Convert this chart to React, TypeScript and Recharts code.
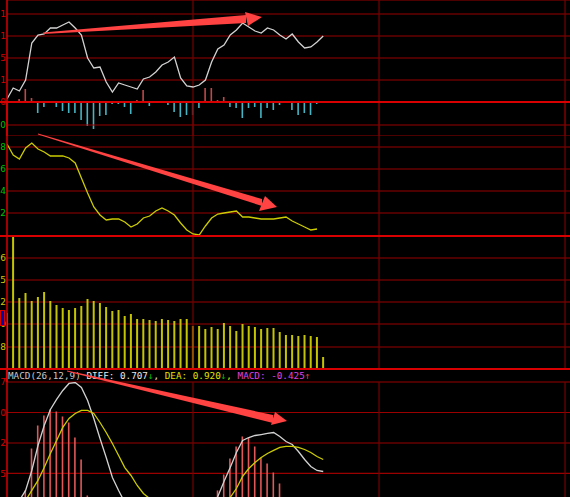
import React from 'react';
import { ComposedChart, Line, Bar, Cell, XAxis, YAxis, CartesianGrid, ReferenceLine } from 'recharts';

// panel 1: white line + small red/cyan histogram under it
const PRICE = [3, 14, 11, 22, 59, 67, 68, 74, 74, 77, 80, 74, 67, 44, 34, 35, 20, 10, 19, 17, 15, 13, 23, 25, 30, 37, 40, 45, 24, 16, 15, 17, 22, 40, 53, 57, 67, 72, 79, 75, 71, 69, 74, 72, 67, 63, 68, 60, 54, 55, 60, 66];
const HIST = [0, 0, 3, 13, 4, -11, -5, 0, -5, -9, -11, -11, -18, -24, -27, -14, -13, -2, -2, -5, -12, 2, 12, -4, 0, 0, -3, -10, -15, -13, -13, -6, 14, 14, 2, 5, -5, -6, -16, -6, -5, -16, -6, -8, -3, 0, -8, -13, -11, -13, -2, 0];
// panel 2: yellow line
const YEL = [92, 81, 77, 88, 93, 87, 84, 80, 80, 80, 78, 73, 58, 43, 29, 21, 16, 17, 17, 14, 9, 12, 18, 20, 25, 28, 25, 21, 13, 6, 2, 1, 10, 18, 22, 23, 24, 25, 19, 19, 18, 17, 17, 17, 18, 19, 15, 12, 9, 6, 7, null];
// panel 3: volume
const VOL = [56, 133, 71, 76, 68, 72, 77, 68, 64, 61, 59, 61, 63, 70, 68, 66, 62, 58, 59, 53, 55, 50, 50, 49, 48, 50, 49, 48, 50, 50, 43, 43, 40, 42, 40, 46, 43, 38, 45, 43, 42, 40, 41, 41, 37, 34, 34, 33, 34, 33, 32, 12];
// panel 4: MACD(26,12,9)
const DIFF = [0.233, 0.319, 0.418, 0.541, 0.787, 1.094, 1.34, 1.537, 1.66, 1.771, 1.857, 1.869, 1.808, 1.648, 1.426, 1.18, 0.946, 0.7, 0.541, 0.393, 0.27, 0.172, 0.11, 0.085, 0.085, 0.11, 0.135, 0.147, 0.122, 0.098, 0.085, 0.147, 0.233, 0.344, 0.467, 0.651, 0.823, 1.008, 1.156, 1.192, 1.217, 1.229, 1.242, 1.254, 1.205, 1.143, 1.106, 1.02, 0.922, 0.836, 0.787, 0.774];
const DEA = [0.233, 0.295, 0.356, 0.418, 0.541, 0.664, 0.823, 0.996, 1.156, 1.316, 1.426, 1.488, 1.525, 1.525, 1.488, 1.377, 1.254, 1.119, 0.971, 0.823, 0.725, 0.602, 0.504, 0.442, 0.381, 0.319, 0.27, 0.233, 0.208, 0.196, 0.196, 0.208, 0.245, 0.282, 0.344, 0.405, 0.455, 0.565, 0.713, 0.811, 0.885, 0.946, 0.996, 1.033, 1.07, 1.082, 1.082, 1.07, 1.045, 1.008, 0.959, 0.922];
const MACD = [0.1, 0.22, 0.35, 0.541, 1.057, 1.34, 1.463, 1.537, 1.512, 1.451, 1.377, 1.192, 0.922, 0.479, 0.25, 0.05, -0.12, -0.25, -0.35, -0.42, -0.45, -0.46, -0.44, -0.4, -0.34, -0.28, -0.22, -0.17, -0.15, -0.14, -0.12, -0.08, 0.05, 0.3, 0.541, 0.737, 0.934, 1.082, 1.205, 1.192, 1.082, 0.946, 0.873, 0.762, 0.627, 0.4, 0.2, 0.02, -0.12, -0.25, -0.36, -0.425];

// left scale labels (the screenshot only shows their last digit)
const A_TICKS = [0, 22, 44, 66, 88];
const A_LABELS = ['0', '1', '5', '1', '1'];
const B_TICKS = [23, 45, 67, 89, 111];
const B_LABELS = ['2', '4', '6', '8', '0'];
const C_TICKS = [22, 45, 67, 89, 111];
const C_LABELS = ['8', '0', '2', '5', '6'];
const D_TICKS = [0.75, 1.125, 1.5, 1.875];
const D_LABELS = ['5', '2', '0', '7'];
const VLINES = [30, 60, 90];

const rows = PRICE.map((p, i) => ({
  i,
  price: p,
  hist: HIST[i],
  yel: YEL[i],
  vol: VOL[i],
  diff: DIFF[i],
  dea: DEA[i],
  macd: MACD[i],
}));

const W = 570;
const XDOM: [number, number] = [0, 90.8];
const GRID = '#9a0000';
const VGRID = '#760000';
const AXIS = '#d80000';

function yAxis(ticks: number[], labels: string[], domain: [number, number], color: string) {
  return (
    <YAxis
      width={7}
      type="number"
      domain={domain}
      allowDataOverflow
      ticks={ticks}
      interval={0}
      tickSize={0}
      tickMargin={1}
      tickLine={false}
      axisLine={{ stroke: AXIS, strokeWidth: 1.5 }}
      tick={{ fill: color, fontSize: 9, fontFamily: 'DejaVu Sans' }}
      tickFormatter={(_v: number, idx: number) => labels[idx]}
    />
  );
}

function xAxis() {
  return <XAxis type="number" dataKey="i" domain={XDOM} allowDataOverflow hide />;
}

function vlines() {
  return VLINES.map((x) => <ReferenceLine key={x} x={x} stroke={VGRID} strokeWidth={1.2} />);
}

const box = (top: number, height: number): React.CSSProperties => ({ position: 'absolute', left: 0, top, width: W, height });
const sep = (top: number): React.CSSProperties => ({ position: 'absolute', left: 0, top, width: W, height: 2, background: '#d80000' });

export default function App() {
  return (
    <div style={{ position: 'fixed', left: 0, top: 0, width: W, height: 497, background: '#000', overflow: 'hidden' }}>
      <div style={box(0, 136)}>
        <ComposedChart width={W} height={136} data={rows} margin={{ top: 0, right: 0, bottom: 0, left: 0 }}>
          <CartesianGrid vertical={false} stroke={GRID} strokeWidth={1.2} />
          {xAxis()}
          {yAxis(A_TICKS, A_LABELS, [-34, 102], '#d80000')}
          {vlines()}
          <Bar dataKey="hist" barSize={1.6} isAnimationActive={false}>
            {rows.map((r) => (
              <Cell key={r.i} fill={r.hist >= 0 ? '#c04848' : '#46b4c2'} />
            ))}
          </Bar>
          <Line dataKey="price" stroke="#d2d2d2" strokeWidth={1.3} dot={false} isAnimationActive={false} />
        </ComposedChart>
      </div>

      <div style={box(102, 134)}>
        <ComposedChart width={W} height={134} data={rows} margin={{ top: 0, right: 0, bottom: 0, left: 0 }}>
          <CartesianGrid vertical={false} stroke={GRID} strokeWidth={1.2} />
          {xAxis()}
          {yAxis(B_TICKS, B_LABELS, [0, 134], '#00c000')}
          {vlines()}
          <Line dataKey="yel" stroke="#cccc00" strokeWidth={1.3} dot={false} isAnimationActive={false} />
        </ComposedChart>
      </div>

      <div style={box(236, 133)}>
        <ComposedChart width={W} height={133} data={rows} margin={{ top: 0, right: 0, bottom: 0, left: 0 }}>
          <CartesianGrid vertical={false} stroke={GRID} strokeWidth={1.2} />
          {xAxis()}
          {yAxis(C_TICKS, C_LABELS, [0, 133], '#cccc00')}
          {vlines()}
          <Bar dataKey="vol" fill="#c4c400" barSize={2} isAnimationActive={false} />
        </ComposedChart>
      </div>

      <div style={box(369, 173)}>
        <ComposedChart width={W} height={173} data={rows} margin={{ top: 13, right: 0, bottom: 0, left: 0 }}>
          <CartesianGrid vertical={false} stroke={GRID} strokeWidth={1.2} />
          {xAxis()}
          {yAxis(D_TICKS, D_LABELS, [-0.093, 1.875], '#d80000')}
          {vlines()}
          <Bar dataKey="macd" barSize={1.6} isAnimationActive={false}>
            {rows.map((r) => (
              <Cell key={r.i} fill={r.macd >= 0 ? '#e05858' : '#46b4c2'} />
            ))}
          </Bar>
          <Line dataKey="diff" stroke="#d2d2d2" strokeWidth={1.3} dot={false} isAnimationActive={false} />
          <Line dataKey="dea" stroke="#cccc00" strokeWidth={1.3} dot={false} isAnimationActive={false} />
        </ComposedChart>
      </div>

      <div style={sep(101)} />
      <div style={sep(235)} />
      <div style={sep(368)} />
      <div style={{ position: 'absolute', left: 6, top: 369, width: 1.5, height: 13, background: AXIS }} />
      <div style={{ position: 'absolute', left: 0, top: 310, width: 5, height: 16, background: '#0000a8', border: '1px solid #d80000', boxSizing: 'border-box' }} />

      <div
        style={{
          position: 'absolute',
          left: 8,
          top: 369,
          height: 13,
          lineHeight: '13px',
          fontFamily: 'DejaVu Sans Mono',
          fontSize: 9.3,
          whiteSpace: 'pre',
          color: '#c8c8c8',
        }}
      >
        <span>MACD(26,12,9) </span>
        <span style={{ color: '#e8e8e8' }}>DIFF: 0.707</span>
        <span style={{ color: '#00c000' }}>↓</span>
        <span style={{ color: '#e8e8e8' }}>, </span>
        <span style={{ color: '#e0e000' }}>DEA: 0.920</span>
        <span style={{ color: '#00c000' }}>↓</span>
        <span style={{ color: '#e0e000' }}>, </span>
        <span style={{ color: '#e040e0' }}>MACD: -0.425</span>
        <span style={{ color: '#e04040' }}>↑</span>
      </div>

      {/* hand-drawn annotation arrows */}
      <svg width={W} height={497} style={{ position: 'absolute', left: 0, top: 0 }}>
        <g fill="#ff4242">
          <polygon points="43,32.5 246,15 246,23 43,34" />
          <polygon points="245,12 262,17 248,26" />
          <polygon points="38,133.5 262,199 262,206 38,134.5" />
          <polygon points="265,196 277,207 259,211" />
          <polygon points="67,370.5 273,415 273,423 67,371.5" />
          <polygon points="275,412 287,421 271,425" />
        </g>
      </svg>
    </div>
  );
}
